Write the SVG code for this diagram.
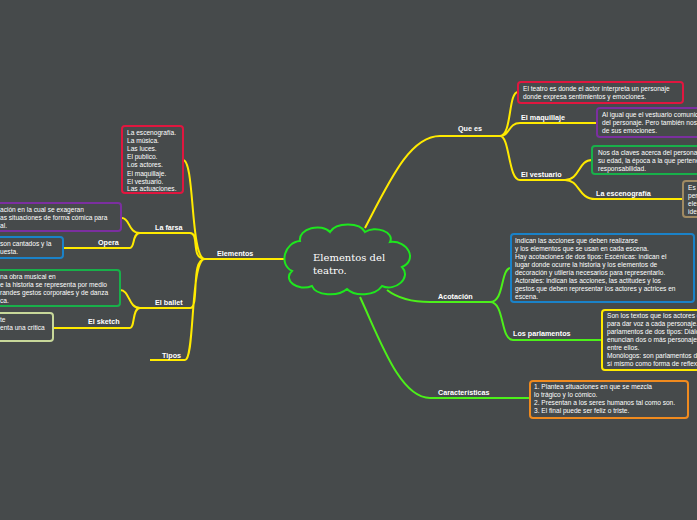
<svg xmlns="http://www.w3.org/2000/svg" width="697" height="520" viewBox="0 0 697 520">
<style>
text{font-family:"Liberation Sans",Arial,sans-serif;fill:#fff}
.t{font-size:6.6px}
.l{font-size:7.2px;font-weight:bold}
.y{stroke:#ffea00;stroke-width:2;fill:none}
.g{stroke:#4cf01a;stroke-width:2;fill:none}
.b{fill:#464a4b;stroke-width:2}
</style>
<rect width="697" height="520" fill="#464a4b"/>
<g id="connectors">
<path class="y" d="M285 259 H205 M205 259 C190 259 195 160 183 160 M205 259 C190 259 200 233 190 233 H140 C128 233 130 218 122 218 M140 233 C132 233 135 248 130 248 H63 M205 259 C190 259 200 308 190 308 H140 C128 308 130 290 120 290 M140 308 C132 308 135 328 130 328 H53 M205 259 C190 259 195 360 185 360 H150"/>
<path class="y" d="M365 228 C390 180 410 136 440 136 H500 M500 136 C512 136 508 92 518 92 M500 136 C510 136 508 123 520 123 H597 M500 136 C510 136 508 180 520 180 H565 C580 180 578 160 592 160 M565 180 C580 180 578 199 595 199 H683"/>
<path class="g" d="M387 290 C400 300 415 302 430 302 H490 C505 302 500 268 511 268 M490 302 C505 302 500 340 513 340 H602 M360 297 C380 340 400 398 430 398 H530"/>
</g>
<g id="center">
<path d="M300 241 C298 228 322 223 330 232 C336 222 360 222 365 232 C375 225 395 232 390 242 C408 240 418 260 402 267 C412 278 395 292 382 286 C375 296 355 297 347 289 C338 297 316 296 312 286 C298 292 282 280 292 271 C278 264 285 242 300 241 Z" fill="#464a4b" stroke="#1ee61e" stroke-width="2"/>
<text x="313" y="261" style="font-family:'DejaVu Serif',serif;font-size:10px">Elementos del</text>
<text x="313" y="274" style="font-family:'DejaVu Serif',serif;font-size:10px">teatro.</text>
</g>
<g id="elementos"><text class="l" x="217" y="256">Elementos</text></g>
<g id="tipos-box"><rect class="b" x="122" y="126" width="61" height="67" rx="3" stroke="#e0163f"/>
<text class="t" x="127" y="134.5">La escenografía.</text><text class="t" x="127" y="142.7">La música.</text><text class="t" x="127" y="150.9">Las luces.</text><text class="t" x="127" y="159.1">El publico.</text><text class="t" x="127" y="167.3">Los actores.</text><text class="t" x="127" y="175.5">El maquillaje.</text><text class="t" x="127" y="183.7">El vestuario.</text><text class="t" x="127" y="191.3">Las actuaciones.</text></g>
<g id="farsa"><text class="l" x="155" y="230">La farsa</text>
<rect class="b" x="-10" y="203" width="131" height="28" rx="3" stroke="#7b2fa0"/>
<text class="t" x="0" y="212">ación en la cual se exageran</text><text class="t" x="0" y="220">as situaciones de forma cómica para</text><text class="t" x="0" y="228">al.</text></g>
<g id="opera"><text class="l" x="98" y="245">Opera</text>
<rect class="b" x="-10" y="237" width="73" height="21" rx="3" stroke="#1a82c8"/>
<text class="t" x="0" y="246">son cantados y la</text><text class="t" x="0" y="254">uesta.</text></g>
<g id="ballet"><text class="l" x="155" y="305">El ballet</text>
<rect class="b" x="-10" y="270" width="130" height="36" rx="3" stroke="#18b04a"/>
<text class="t" x="0" y="279">na obra musical en</text><text class="t" x="0" y="287">e la historia se representa por medio</text><text class="t" x="0" y="295">randes gestos corporales y de danza</text><text class="t" x="0" y="303">ca.</text></g>
<g id="sketch"><text class="l" x="88" y="324">El sketch</text>
<rect class="b" x="-10" y="313" width="63" height="28" rx="3" stroke="#c8d89a"/>
<text class="t" x="0" y="322">te</text><text class="t" x="0" y="330">enta una critica</text></g>
<g id="tipos"><text class="l" x="162" y="358">Tipos</text></g>
<g id="quees"><text class="l" x="458" y="131">Que es</text>
<rect class="b" x="518" y="82" width="165" height="21" rx="3" stroke="#e0163f"/>
<text class="t" x="523" y="90.5">El teatro es donde el actor interpreta un personaje</text><text class="t" x="523" y="98.5">donde expresa sentimientos y emociones.</text></g>
<g id="maquillaje"><text class="l" x="521" y="120">El maquillaje</text>
<rect class="b" x="597" y="108" width="110" height="29" rx="3" stroke="#7b2fa0"/>
<text class="t" x="602" y="117">Al igual que el vestuario comunica</text><text class="t" x="602" y="125">del personaje. Pero también nos</text><text class="t" x="602" y="133">de sus emociones.</text></g>
<g id="vestuario"><text class="l" x="521" y="177">El vestuario</text>
<rect class="b" x="592" y="146" width="115" height="28" rx="3" stroke="#18b04a"/>
<text class="t" x="598" y="155">Nos da claves acerca del personaje</text><text class="t" x="598" y="163">su edad, la época a la que pertenece</text><text class="t" x="598" y="171">responsabilidad.</text></g>
<g id="escenografia"><text class="l" x="596" y="196">La escenografía</text>
<rect class="b" x="683" y="181" width="30" height="36" rx="3" stroke="#a08a62"/>
<text class="t" x="688" y="190">Es</text><text class="t" x="688" y="198">per</text><text class="t" x="688" y="206">ele</text><text class="t" x="688" y="214">ide</text></g>
<g id="acotacion"><text class="l" x="438" y="299">Acotación</text>
<rect class="b" x="511" y="234" width="183" height="68" rx="3" stroke="#1a82c8"/>
<text class="t" x="515" y="242.5">Indican las acciones que deben realizarse</text><text class="t" x="515" y="250.5">y los elementos que se usan en cada escena.</text><text class="t" x="515" y="258.5">Hay acotaciones de dos tipos: Escénicas: indican el</text><text class="t" x="515" y="266.5">lugar donde ocurre la historia y los elementos de</text><text class="t" x="515" y="274.5">decoración y utilería necesarios para representarlo.</text><text class="t" x="515" y="282.5">Actorales: indican las acciones, las actitudes y los</text><text class="t" x="515" y="290.5">gestos que deben representar los actores y actrices en</text><text class="t" x="515" y="298.5">escena.</text></g>
<g id="parlamentos"><text class="l" x="513" y="336">Los parlamentos</text>
<rect class="b" x="602" y="310" width="110" height="60" rx="3" stroke="#ffea00"/>
<text class="t" x="607" y="318">Son los textos que los actores dicen</text><text class="t" x="607" y="326">para dar voz a cada personaje. Hay</text><text class="t" x="607" y="334">parlamentos de dos tipos: Diálogos:</text><text class="t" x="607" y="342">enuncian dos o más personajes</text><text class="t" x="607" y="350">entre ellos.</text><text class="t" x="607" y="358">Monólogos: son parlamentos de un personaje</text><text class="t" x="607" y="366">sí mismo como forma de reflexión</text></g>
<g id="caracteristicas"><text class="l" x="438" y="395">Características</text>
<rect class="b" x="530" y="381" width="158" height="37" rx="3" stroke="#f08a1e"/>
<text class="t" x="534" y="389">1. Plantea situaciones en que se mezcla</text><text class="t" x="534" y="397">lo trágico y lo cómico.</text><text class="t" x="534" y="405">2. Presentan a los seres humanos tal como son.</text><text class="t" x="534" y="413">3. El final puede ser feliz o triste.</text></g>
</svg>
